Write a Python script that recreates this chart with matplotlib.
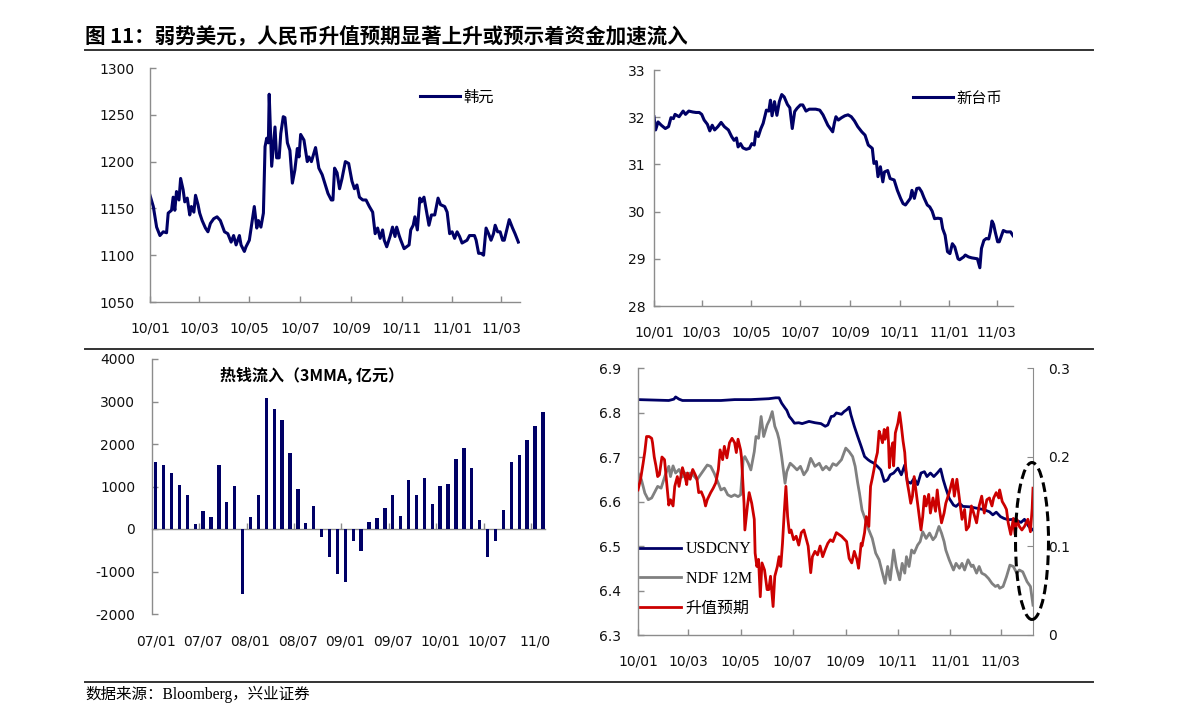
import matplotlib
matplotlib.use('Agg')
import matplotlib.pyplot as plt
import matplotlib.dates as mdates
import matplotlib.transforms as mtrans
from matplotlib.patches import Ellipse
from matplotlib.lines import Line2D
import pandas as pd

CJK = 'Noto Sans CJK SC'
plt.rcParams['font.family'] = ['DejaVu Sans', CJK]
plt.rcParams['axes.unicode_minus'] = False

# ---------------- data ----------------
title_text = "图 11：弱势美元，人民币升值预期显著上升或预示着资金加速流入"
source_text = "数据来源：Bloomberg，兴业证券"

krw_dates = [
    "2010-01-01", "2010-01-05", "2010-01-09", "2010-01-13", "2010-01-17", "2010-01-21", "2010-01-23", "2010-01-27", "2010-01-29", "2010-01-31",
    "2010-02-02", "2010-02-05", "2010-02-07", "2010-02-10", "2010-02-12", "2010-02-15", "2010-02-18", "2010-02-20", "2010-02-23", "2010-02-25",
    "2010-02-28", "2010-03-02", "2010-03-05", "2010-03-09", "2010-03-12", "2010-03-15", "2010-03-19", "2010-03-23", "2010-03-27", "2010-04-01",
    "2010-04-05", "2010-04-09", "2010-04-12", "2010-04-15", "2010-04-19", "2010-04-21", "2010-04-25", "2010-04-27", "2010-05-01", "2010-05-04",
    "2010-05-07", "2010-05-10", "2010-05-12", "2010-05-15", "2010-05-18", "2010-05-20", "2010-05-22", "2010-05-24", "2010-05-25", "2010-05-28",
    "2010-06-01", "2010-06-03", "2010-06-06", "2010-06-08", "2010-06-11", "2010-06-13", "2010-06-16", "2010-06-19", "2010-06-22", "2010-06-25",
    "2010-06-28", "2010-06-30", "2010-07-02", "2010-07-06", "2010-07-10", "2010-07-12", "2010-07-15", "2010-07-20", "2010-07-24", "2010-07-28",
    "2010-08-04", "2010-08-08", "2010-08-10", "2010-08-12", "2010-08-15", "2010-08-18", "2010-08-21", "2010-08-25", "2010-08-29", "2010-09-02",
    "2010-09-05", "2010-09-08", "2010-09-11", "2010-09-15", "2010-09-19", "2010-09-23", "2010-09-27", "2010-09-30", "2010-10-03", "2010-10-06",
    "2010-10-09", "2010-10-11", "2010-10-14", "2010-10-18", "2010-10-21", "2010-10-24", "2010-10-26", "2010-10-29", "2010-10-31", "2010-11-04",
    "2010-11-07", "2010-11-10", "2010-11-12", "2010-11-15", "2010-11-17", "2010-11-20", "2010-11-23", "2010-11-25", "2010-11-28", "2010-11-30",
    "2010-12-04", "2010-12-07", "2010-12-11", "2010-12-15", "2010-12-18", "2010-12-23", "2010-12-26", "2010-12-29", "2011-01-01", "2011-01-04",
    "2011-01-07", "2011-01-10", "2011-01-13", "2011-01-19", "2011-01-22", "2011-01-28", "2011-01-30", "2011-02-02", "2011-02-05", "2011-02-08",
    "2011-02-11", "2011-02-14", "2011-02-17", "2011-02-20", "2011-02-22", "2011-02-25", "2011-02-28", "2011-03-03", "2011-03-05", "2011-03-08",
    "2011-03-11", "2011-03-15", "2011-03-18", "2011-03-22"]
krw_values = [
    1164, 1152, 1130, 1121, 1125, 1124, 1145, 1148, 1162, 1148,
    1168, 1159, 1182, 1170, 1157, 1161, 1143, 1152, 1146, 1164,
    1154, 1145, 1137, 1129, 1125, 1134, 1139, 1141, 1137, 1125,
    1123, 1114, 1121, 1111, 1121, 1111, 1104, 1109, 1116, 1134,
    1152, 1129, 1137, 1130, 1145, 1216, 1225, 1220, 1272, 1195,
    1237, 1204, 1204, 1230, 1248, 1247, 1220, 1212, 1177, 1191,
    1214, 1205, 1229, 1223, 1200, 1205, 1200, 1215, 1193, 1186,
    1166, 1159, 1159, 1193, 1188, 1171, 1182, 1200, 1198, 1179,
    1171, 1175, 1162, 1159, 1159, 1152, 1146, 1123, 1129, 1118,
    1127, 1116, 1109, 1120, 1130, 1120, 1130, 1121, 1116, 1107,
    1109, 1111, 1127, 1132, 1141, 1127, 1161, 1157, 1162, 1152,
    1132, 1143, 1143, 1161, 1154, 1152, 1146, 1123, 1125, 1118,
    1125, 1120, 1113, 1116, 1121, 1121, 1116, 1102, 1102, 1100,
    1129, 1123, 1116, 1123, 1132, 1125, 1125, 1116, 1116, 1127,
    1138, 1129, 1123, 1114]

twd_dates = [
    "2010-01-01", "2010-01-03", "2010-01-06", "2010-01-10", "2010-01-15", "2010-01-19", "2010-01-22", "2010-01-25", "2010-01-27", "2010-02-01",
    "2010-02-06", "2010-02-09", "2010-02-13", "2010-02-18", "2010-02-22", "2010-02-26", "2010-03-01", "2010-03-04", "2010-03-08", "2010-03-11",
    "2010-03-14", "2010-03-17", "2010-03-21", "2010-03-25", "2010-03-29", "2010-04-03", "2010-04-07", "2010-04-10", "2010-04-13", "2010-04-15",
    "2010-04-18", "2010-04-21", "2010-04-25", "2010-04-29", "2010-05-02", "2010-05-05", "2010-05-07", "2010-05-10", "2010-05-13", "2010-05-16",
    "2010-05-20", "2010-05-23", "2010-05-25", "2010-05-27", "2010-05-30", "2010-06-02", "2010-06-05", "2010-06-08", "2010-06-11", "2010-06-15",
    "2010-06-18", "2010-06-21", "2010-06-24", "2010-06-27", "2010-07-01", "2010-07-04", "2010-07-08", "2010-07-12", "2010-07-16", "2010-07-20",
    "2010-07-25", "2010-07-29", "2010-08-01", "2010-08-04", "2010-08-07", "2010-08-10", "2010-08-12", "2010-08-14", "2010-08-17", "2010-08-21",
    "2010-08-25", "2010-08-29", "2010-09-02", "2010-09-06", "2010-09-10", "2010-09-15", "2010-09-19", "2010-09-23", "2010-09-28", "2010-09-30",
    "2010-10-03", "2010-10-05", "2010-10-08", "2010-10-11", "2010-10-13", "2010-10-17", "2010-10-20", "2010-10-25", "2010-10-29", "2010-11-02",
    "2010-11-05", "2010-11-08", "2010-11-11", "2010-11-14", "2010-11-16", "2010-11-19", "2010-11-22", "2010-11-25", "2010-11-28", "2010-12-01",
    "2010-12-05", "2010-12-08", "2010-12-11", "2010-12-14", "2010-12-18", "2010-12-22", "2010-12-24", "2010-12-27", "2010-12-30", "2011-01-02",
    "2011-01-05", "2011-01-08", "2011-01-12", "2011-01-14", "2011-01-19", "2011-01-21", "2011-01-25", "2011-01-29", "2011-02-05", "2011-02-08",
    "2011-02-10", "2011-02-13", "2011-02-16", "2011-02-19", "2011-02-21", "2011-02-23", "2011-02-25", "2011-02-27", "2011-03-02", "2011-03-04",
    "2011-03-07", "2011-03-09", "2011-03-13", "2011-03-18", "2011-03-21"]
twd_values = [
    32.01, 31.73, 31.90, 31.83, 31.76, 31.80, 31.99, 31.97, 32.06, 32.01,
    32.13, 32.06, 32.13, 32.11, 32.10, 32.10, 32.06, 31.94, 31.85, 31.71,
    31.83, 31.73, 31.80, 31.89, 31.80, 31.73, 31.59, 31.51, 31.56, 31.37,
    31.44, 31.35, 31.32, 31.34, 31.44, 31.41, 31.69, 31.59, 31.75, 31.87,
    32.15, 32.13, 32.36, 32.03, 32.33, 32.04, 32.33, 32.48, 32.43, 32.27,
    32.20, 31.76, 32.12, 32.19, 32.26, 32.26, 32.13, 32.17, 32.17, 32.17,
    32.15, 32.05, 31.94, 31.83, 31.76, 31.69, 31.87, 32.01, 31.94, 31.99,
    32.03, 32.05, 32.01, 31.92, 31.80, 31.69, 31.62, 31.41, 31.34, 31.02,
    31.06, 30.74, 30.95, 30.63, 30.84, 30.87, 30.70, 30.67, 30.45, 30.28,
    30.17, 30.14, 30.21, 30.28, 30.45, 30.28, 30.49, 30.50, 30.42, 30.29,
    30.14, 30.10, 30.01, 29.85, 29.86, 29.85, 29.64, 29.50, 29.15, 29.11,
    29.32, 29.25, 29.00, 28.98, 29.04, 29.08, 29.04, 29.02, 29.00, 28.81,
    29.22, 29.39, 29.43, 29.42, 29.57, 29.80, 29.73, 29.57, 29.36, 29.36,
    29.50, 29.60, 29.57, 29.57, 29.49]

# monthly hot-money inflow (3MMA, 100m yuan), 2007-01 .. 2011-02
bar_start = "2007-01"
bar_values = [1570, 1510, 1315, 1040, 806, 125, 430, 290, 1510, 634,
              1018, -1526, 290, 790, 3076, 2826, 2575, 1785, 947, 133,
              540, -196, -650, -1057, -1237, -290, -517, 157, 250, 493,
              806, 313, 1159, 806, 1198, 587, 1018, 1065, 1652, 1902,
              1425, 204, -665, -290, 454, 1581, 1746, 2098, 2427, 2755]
bar_tick_labels = ["07/01", "07/07", "08/01", "08/07", "09/01", "09/07", "10/01", "10/07", "11/0"]

usd_dates = [
    "2010-01-01", "2010-02-06", "2010-02-12", "2010-02-14", "2010-02-18", "2010-02-22", "2010-03-15", "2010-04-08", "2010-04-24", "2010-05-13",
    "2010-06-03", "2010-06-11", "2010-06-15", "2010-06-18", "2010-06-22", "2010-06-24", "2010-06-27", "2010-06-30", "2010-07-03", "2010-07-08",
    "2010-07-12", "2010-07-20", "2010-07-27", "2010-08-03", "2010-08-08", "2010-08-11", "2010-08-15", "2010-08-18", "2010-08-21", "2010-08-27",
    "2010-08-30", "2010-09-02", "2010-09-05", "2010-09-07", "2010-09-11", "2010-09-15", "2010-09-19", "2010-09-23", "2010-09-27", "2010-09-30",
    "2010-10-04", "2010-10-08", "2010-10-12", "2010-10-16", "2010-10-20", "2010-10-23", "2010-10-27", "2010-11-01", "2010-11-05", "2010-11-09",
    "2010-11-12", "2010-11-16", "2010-11-20", "2010-11-24", "2010-11-28", "2010-12-02", "2010-12-05", "2010-12-09", "2010-12-13", "2010-12-17",
    "2010-12-21", "2010-12-24", "2010-12-27", "2010-12-31", "2011-01-05", "2011-01-08", "2011-01-12", "2011-01-16", "2011-01-24", "2011-02-01",
    "2011-02-09", "2011-02-16", "2011-02-20", "2011-02-24", "2011-02-27", "2011-03-01", "2011-03-05", "2011-03-10", "2011-03-17", "2011-03-25",
    "2011-03-29", "2011-04-03", "2011-04-08"]
usd_values = [
    6.829, 6.827, 6.830, 6.835, 6.830, 6.827, 6.827, 6.827, 6.829, 6.829,
    6.831, 6.833, 6.833, 6.821, 6.810, 6.805, 6.791, 6.784, 6.776, 6.777,
    6.775, 6.780, 6.777, 6.775, 6.769, 6.772, 6.791, 6.792, 6.799, 6.796,
    6.802, 6.806, 6.812, 6.795, 6.769, 6.746, 6.724, 6.701, 6.694, 6.690,
    6.686, 6.679, 6.671, 6.645, 6.649, 6.660, 6.664, 6.675, 6.660, 6.682,
    6.645, 6.641, 6.652, 6.638, 6.664, 6.667, 6.656, 6.664, 6.656, 6.664,
    6.673, 6.649, 6.630, 6.607, 6.592, 6.589, 6.596, 6.589, 6.588, 6.585,
    6.582, 6.577, 6.570, 6.576, 6.570, 6.566, 6.562, 6.559, 6.560, 6.553,
    6.560, 6.544, 6.536]

ndf_dates = [
    "2010-01-01", "2010-01-05", "2010-01-09", "2010-01-13", "2010-01-17", "2010-01-20", "2010-01-24", "2010-01-28", "2010-02-02", "2010-02-06",
    "2010-02-08", "2010-02-11", "2010-02-14", "2010-02-18", "2010-02-22", "2010-02-26", "2010-02-28", "2010-03-03", "2010-03-07", "2010-03-11",
    "2010-03-15", "2010-03-19", "2010-03-23", "2010-03-27", "2010-03-31", "2010-04-05", "2010-04-08", "2010-04-12", "2010-04-16", "2010-04-20",
    "2010-04-24", "2010-04-28", "2010-05-01", "2010-05-04", "2010-05-06", "2010-05-10", "2010-05-13", "2010-05-17", "2010-05-19", "2010-05-22",
    "2010-05-25", "2010-05-28", "2010-06-01", "2010-06-04", "2010-06-07", "2010-06-10", "2010-06-13", "2010-06-15", "2010-06-18", "2010-06-22",
    "2010-06-24", "2010-06-28", "2010-07-02", "2010-07-06", "2010-07-10", "2010-07-14", "2010-07-18", "2010-07-22", "2010-07-24", "2010-07-27",
    "2010-08-01", "2010-08-05", "2010-08-09", "2010-08-13", "2010-08-17", "2010-08-21", "2010-08-27", "2010-09-01", "2010-09-05", "2010-09-09",
    "2010-09-12", "2010-09-15", "2010-09-17", "2010-09-20", "2010-09-24", "2010-09-28", "2010-10-02", "2010-10-06", "2010-10-10", "2010-10-14",
    "2010-10-17", "2010-10-20", "2010-10-23", "2010-10-27", "2010-10-30", "2010-11-03", "2010-11-06", "2010-11-09", "2010-11-11", "2010-11-14",
    "2010-11-17", "2010-11-20", "2010-11-24", "2010-11-27", "2010-11-30", "2010-12-04", "2010-12-08", "2010-12-12", "2010-12-15", "2010-12-19",
    "2010-12-22", "2010-12-25", "2010-12-27", "2010-12-31", "2011-01-05", "2011-01-08", "2011-01-12", "2011-01-15", "2011-01-18", "2011-01-22",
    "2011-01-26", "2011-01-28", "2011-02-01", "2011-02-04", "2011-02-07", "2011-02-11", "2011-02-15", "2011-02-19", "2011-02-23", "2011-02-26",
    "2011-02-28", "2011-03-04", "2011-03-08", "2011-03-12", "2011-03-16", "2011-03-20", "2011-03-23", "2011-03-27", "2011-04-01", "2011-04-05",
    "2011-04-08"]
ndf_values = [
    6.664, 6.649, 6.619, 6.604, 6.608, 6.619, 6.634, 6.630, 6.660, 6.679,
    6.656, 6.680, 6.664, 6.672, 6.655, 6.664, 6.650, 6.664, 6.658, 6.649,
    6.660, 6.671, 6.682, 6.679, 6.664, 6.641, 6.626, 6.630, 6.615, 6.611,
    6.615, 6.611, 6.615, 6.694, 6.701, 6.686, 6.671, 6.712, 6.746, 6.742,
    6.791, 6.746, 6.772, 6.784, 6.802, 6.769, 6.754, 6.739, 6.701, 6.641,
    6.667, 6.686, 6.679, 6.671, 6.679, 6.660, 6.671, 6.697, 6.690, 6.679,
    6.686, 6.671, 6.679, 6.671, 6.685, 6.681, 6.694, 6.720, 6.712, 6.701,
    6.679, 6.641, 6.619, 6.581, 6.559, 6.536, 6.517, 6.484, 6.469, 6.439,
    6.416, 6.454, 6.424, 6.491, 6.454, 6.424, 6.461, 6.439, 6.476, 6.454,
    6.491, 6.484, 6.502, 6.510, 6.532, 6.517, 6.529, 6.514, 6.521, 6.544,
    6.529, 6.510, 6.491, 6.469, 6.446, 6.461, 6.450, 6.461, 6.446, 6.469,
    6.454, 6.457, 6.439, 6.454, 6.439, 6.435, 6.427, 6.416, 6.409, 6.412,
    6.405, 6.409, 6.431, 6.457, 6.454, 6.439, 6.446, 6.442, 6.420, 6.409,
    6.367]

exp_dates = [
    "2010-01-01", "2010-01-04", "2010-01-07", "2010-01-09", "2010-01-11", "2010-01-14", "2010-01-17", "2010-01-18", "2010-01-20", "2010-01-22",
    "2010-01-24", "2010-01-26", "2010-01-29", "2010-02-01", "2010-02-04", "2010-02-06", "2010-02-08", "2010-02-11", "2010-02-13", "2010-02-16",
    "2010-02-18", "2010-02-22", "2010-02-25", "2010-02-27", "2010-02-28", "2010-03-03", "2010-03-06", "2010-03-09", "2010-03-11", "2010-03-13",
    "2010-03-16", "2010-03-19", "2010-03-21", "2010-03-23", "2010-03-27", "2010-03-30", "2010-04-02", "2010-04-05", "2010-04-07", "2010-04-10",
    "2010-04-12", "2010-04-15", "2010-04-18", "2010-04-21", "2010-04-24", "2010-04-26", "2010-04-28", "2010-05-01", "2010-05-02", "2010-05-05",
    "2010-05-06", "2010-05-09", "2010-05-11", "2010-05-14", "2010-05-17", "2010-05-18", "2010-05-20", "2010-05-22", "2010-05-24", "2010-05-26",
    "2010-05-29", "2010-06-01", "2010-06-03", "2010-06-05", "2010-06-08", "2010-06-10", "2010-06-13", "2010-06-15", "2010-06-17", "2010-06-19",
    "2010-06-21", "2010-06-23", "2010-06-25", "2010-06-27", "2010-06-29", "2010-07-02", "2010-07-05", "2010-07-08", "2010-07-11", "2010-07-14",
    "2010-07-17", "2010-07-19", "2010-07-22", "2010-07-24", "2010-07-27", "2010-07-30", "2010-08-02", "2010-08-05", "2010-08-08", "2010-08-11",
    "2010-08-14", "2010-08-17", "2010-08-21", "2010-08-27", "2010-09-02", "2010-09-05", "2010-09-08", "2010-09-11", "2010-09-14", "2010-09-16",
    "2010-09-19", "2010-09-20", "2010-09-23", "2010-09-25", "2010-09-28", "2010-09-30", "2010-10-02", "2010-10-04", "2010-10-06", "2010-10-08",
    "2010-10-10", "2010-10-12", "2010-10-14", "2010-10-16", "2010-10-17", "2010-10-20", "2010-10-21", "2010-10-22", "2010-10-24", "2010-10-26",
    "2010-10-27", "2010-10-29", "2010-11-01", "2010-11-03", "2010-11-05", "2010-11-07", "2010-11-09", "2010-11-10", "2010-11-12", "2010-11-14",
    "2010-11-16", "2010-11-18", "2010-11-20", "2010-11-22", "2010-11-24", "2010-11-26", "2010-11-28", "2010-11-30", "2010-12-02", "2010-12-04",
    "2010-12-07", "2010-12-09", "2010-12-12", "2010-12-15", "2010-12-17", "2010-12-19", "2010-12-22", "2010-12-25", "2010-12-27", "2010-12-31",
    "2011-01-04", "2011-01-06", "2011-01-09", "2011-01-12", "2011-01-15", "2011-01-18", "2011-01-20", "2011-01-23", "2011-01-26", "2011-01-28",
    "2011-02-01", "2011-02-04", "2011-02-07", "2011-02-10", "2011-02-13", "2011-02-16", "2011-02-19", "2011-02-21", "2011-02-24", "2011-02-27",
    "2011-02-28", "2011-03-03", "2011-03-06", "2011-03-08", "2011-03-10", "2011-03-13", "2011-03-16", "2011-03-18", "2011-03-20", "2011-03-23",
    "2011-03-26", "2011-03-29", "2011-04-02", "2011-04-05", "2011-04-07", "2011-04-08"]
exp_values = [
    0.163, 0.175, 0.193, 0.206, 0.223, 0.223, 0.221, 0.216, 0.200, 0.190,
    0.178, 0.180, 0.200, 0.197, 0.167, 0.146, 0.152, 0.145, 0.167, 0.178,
    0.167, 0.188, 0.178, 0.169, 0.182, 0.175, 0.186, 0.180, 0.175, 0.160,
    0.161, 0.154, 0.145, 0.152, 0.160, 0.165, 0.171, 0.186, 0.208, 0.197,
    0.212, 0.199, 0.216, 0.221, 0.216, 0.205, 0.220, 0.208, 0.200, 0.148,
    0.118, 0.145, 0.160, 0.148, 0.130, 0.092, 0.077, 0.085, 0.043, 0.081,
    0.073, 0.051, 0.051, 0.066, 0.032, 0.066, 0.077, 0.088, 0.077, 0.103,
    0.137, 0.167, 0.133, 0.115, 0.118, 0.107, 0.111, 0.101, 0.115, 0.118,
    0.107, 0.100, 0.070, 0.088, 0.094, 0.090, 0.100, 0.088, 0.096, 0.103,
    0.107, 0.105, 0.115, 0.111, 0.105, 0.086, 0.081, 0.094, 0.085, 0.075,
    0.103, 0.100, 0.115, 0.133, 0.122, 0.167, 0.176, 0.186, 0.197, 0.205,
    0.229, 0.223, 0.216, 0.231, 0.220, 0.233, 0.216, 0.188, 0.208, 0.216,
    0.190, 0.227, 0.238, 0.250, 0.235, 0.218, 0.205, 0.190, 0.171, 0.160,
    0.148, 0.156, 0.178, 0.163, 0.148, 0.133, 0.118, 0.133, 0.156, 0.145,
    0.158, 0.137, 0.154, 0.139, 0.163, 0.145, 0.126, 0.137, 0.148, 0.160,
    0.175, 0.156, 0.175, 0.152, 0.130, 0.141, 0.118, 0.122, 0.145, 0.139,
    0.126, 0.145, 0.156, 0.137, 0.152, 0.154, 0.145, 0.154, 0.160, 0.154,
    0.163, 0.150, 0.145, 0.141, 0.126, 0.113, 0.131, 0.113, 0.130, 0.122,
    0.118, 0.122, 0.130, 0.116, 0.142, 0.165]

# ---------------- style ----------------
W, H = 1191, 723
NAVY = '#000066'
GRAY_LINE = '#808080'
RED = '#CC0000'
AX_GRAY = '#8c8c8c'
TXT = '#111111'


def fig_rect(left, top, right, bottom):
    return [left / W, 1 - bottom / H, (right - left) / W, (bottom - top) / H]


def base_style(ax, ypad, xpad=14):
    for s in ['top', 'right']:
        ax.spines[s].set_visible(False)
    for s in ['left', 'bottom']:
        ax.spines[s].set_color(AX_GRAY)
        ax.spines[s].set_linewidth(1.0)
    ax.tick_params(direction='in', color=AX_GRAY, length=4, width=1,
                   labelsize=10, labelcolor=TXT)
    ax.tick_params(axis='y', pad=ypad)
    ax.tick_params(axis='x', pad=xpad)


def date_axis(ax):
    ax.xaxis.set_major_locator(mdates.MonthLocator(bymonth=[1, 3, 5, 7, 9, 11]))
    ax.xaxis.set_major_formatter(mdates.DateFormatter('%y/%m'))


fig = plt.figure(figsize=(W / 100, H / 100), dpi=100)

# title and rules
fig.text(85 / W, 1 - 37 / H, title_text, fontsize=14.8, fontweight='bold',
         family=[CJK], va='center', ha='left', color='black')
for yy in (50, 349, 682):
    fig.add_artist(Line2D([85 / W, 1093 / W], [1 - yy / H, 1 - yy / H],
                          color='#333333', lw=1.4))
fig.text(85 / W, 1 - 694 / H, source_text, fontsize=11.2,
         family=['Liberation Serif', CJK], va='center', ha='left', color='black')

# ---- panel 1: KRW ----
ax1 = fig.add_axes(fig_rect(150, 68, 520, 302))
ln1, = ax1.plot(pd.to_datetime(krw_dates), krw_values, color=NAVY, lw=2.2, label='韩元')
ax1.set_ylim(1050, 1300)
ax1.set_yticks(range(1050, 1301, 50))
ax1.set_xlim(pd.Timestamp('2010-01-01'), pd.Timestamp('2011-03-24'))
date_axis(ax1)
base_style(ax1, ypad=11)
ax1.legend(handles=[ln1], loc='center left', bbox_to_anchor=(420 / W, 1 - 97 / H),
           bbox_transform=fig.transFigure, frameon=False, borderpad=0, borderaxespad=0,
           handlelength=2.6, handletextpad=0.25, prop={'family': [CJK], 'size': 11})

# ---- panel 2: TWD ----
ax2 = fig.add_axes(fig_rect(654, 70, 1013, 306))
ln2, = ax2.plot(pd.to_datetime(twd_dates), twd_values, color=NAVY, lw=2.2, label='新台币')
ax2.set_ylim(28, 33)
ax2.set_yticks(range(28, 34))
ax2.set_xlim(pd.Timestamp('2010-01-01'), pd.Timestamp('2011-03-21'))
date_axis(ax2)
base_style(ax2, ypad=6)
ax2.legend(handles=[ln2], loc='center left', bbox_to_anchor=(913 / W, 1 - 98 / H),
           bbox_transform=fig.transFigure, frameon=False, borderpad=0, borderaxespad=0,
           handlelength=2.6, handletextpad=0.25, prop={'family': [CJK], 'size': 11})

# ---- panel 3: hot money bars ----
ax3 = fig.add_axes(fig_rect(152, 359, 545, 614))
bar_months = pd.period_range(bar_start, periods=len(bar_values), freq='M')
xpos = list(range(len(bar_months)))
ax3.bar(xpos, bar_values, width=0.42, color=NAVY, zorder=2)
base_style(ax3, ypad=12)
ax3.spines['bottom'].set_position(('data', 0))
ax3.spines['bottom'].set_zorder(1)
ax3.set_xticks([i + 5.5 for i in range(0, len(bar_values) - 6, 6)])
ax3.tick_params(axis='x', labelbottom=False, length=4)
ax3.set_ylim(-2000, 4000)
ax3.set_yticks(range(-2000, 4001, 1000))
ax3.set_xlim(-0.47, len(bar_values) - 0.73)
lbl_tr = mtrans.blended_transform_factory(ax3.transData, ax3.transAxes)
for k, lab in enumerate(bar_tick_labels):
    ax3.text(xpos[k * 6], -0.106, lab, transform=lbl_tr, ha='center', va='center',
             fontsize=10, color=TXT)
fig.text(312 / W, 1 - 375 / H, '热钱流入（3MMA, 亿元）', fontsize=11.5, fontweight='bold',
         family=[CJK], ha='center', va='center', color='black')

# ---- panel 4: USDCNY / NDF / expectation ----
ax4 = fig.add_axes(fig_rect(638, 368, 1033, 635))
l_usd, = ax4.plot(pd.to_datetime(usd_dates), usd_values, color=NAVY, lw=2.0, label='USDCNY')
l_ndf, = ax4.plot(pd.to_datetime(ndf_dates), ndf_values, color=GRAY_LINE, lw=2.0, label='NDF 12M')
ax4.set_ylim(6.3, 6.9)
ax4.set_yticks([6.3, 6.4, 6.5, 6.6, 6.7, 6.8, 6.9])
ax4.set_yticklabels(['6.3', '6.4', '6.5', '6.6', '6.7', '6.8', '6.9'])
ax4.set_xlim(pd.Timestamp('2010-01-01'), pd.Timestamp('2011-04-08'))
date_axis(ax4)
base_style(ax4, ypad=12)

ax4r = ax4.twinx()
l_exp, = ax4r.plot(pd.to_datetime(exp_dates), exp_values, color=RED, lw=2.0, label='升值预期')
ax4r.set_ylim(0, 0.3)
ax4r.set_yticks([0, 0.1, 0.2, 0.3])
ax4r.set_yticklabels(['0', '0.1', '0.2', '0.3'])
for s in ['top', 'left', 'bottom']:
    ax4r.spines[s].set_visible(False)
ax4r.spines['right'].set_color(AX_GRAY)
ax4r.tick_params(axis='y', direction='in', color=AX_GRAY, length=4, labelsize=10,
                 labelcolor=TXT, pad=11)
ax4r.set_xlim(ax4.get_xlim())

ax4r.legend(handles=[l_usd, l_ndf, l_exp], loc='center left',
            bbox_to_anchor=(640 / W, 1 - 579 / H), bbox_transform=fig.transFigure,
            frameon=False, borderpad=0, borderaxespad=0, handlelength=2.55,
            handletextpad=0.3, labelspacing=0.85,
            prop={'family': ['Liberation Serif', CJK], 'size': 11.5})

ell = Ellipse((0.9975, 0.352), 0.0835, 0.588, transform=ax4r.transAxes, fill=False,
              edgecolor='black', lw=2.2, linestyle=(0, (3.2, 1.6)), clip_on=False, zorder=5)
ax4r.add_patch(ell)

fig.savefig('out.png', dpi=100)
